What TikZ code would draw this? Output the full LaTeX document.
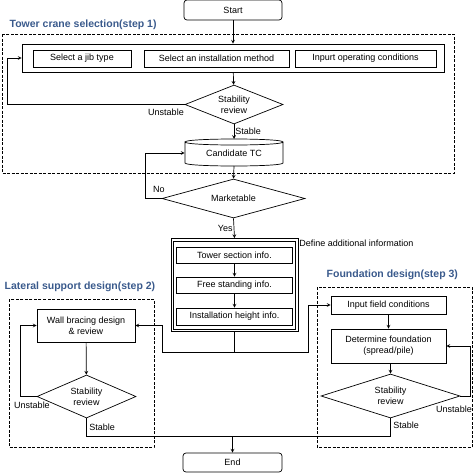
\documentclass[tikz,border=0pt]{standalone}
\usepackage{fontspec}
\setmainfont{Liberation Sans}
\usepackage{tikz}
\usetikzlibrary{shapes.geometric}
\definecolor{titleblue}{RGB}{58,90,140}

\begin{document}
\begin{tikzpicture}[x=1pt,y=-1pt,>=stealth,line width=0.7pt,
    every node/.style={font=\fontsize{9}{11}\selectfont},
    box/.style={draw,rectangle,inner sep=0pt,align=center},
    term/.style={box,rounded corners=3pt},
    decide/.style={draw,diamond,aspect=2.5,inner sep=0pt,align=center},
    stepframe/.style={draw,line width=1pt,dash pattern=on 3pt off 1.5pt},
    steptitle/.style={anchor=west,text=titleblue,font=\fontsize{10.5}{12}\bfseries},
    lbl/.style={inner sep=1pt}]
  \useasboundingbox (0,0) rectangle (474,474);
  % step frames
  \draw[stepframe] (2,34) rectangle (454,173);
  \draw[stepframe] (9,299) rectangle (154,447);
  \draw[stepframe] (317,287) rectangle (472,447);
  \node[steptitle] (t1) at (6,25) {Tower crane selection(step 1)};
  \node[steptitle] (t2) at (1,287) {Lateral support design(step 2)};
  \node[steptitle] (t3) at (323,275) {Foundation design(step 3)};
  % step 1
  \node[term,minimum width=98pt,minimum height=20pt] (start) at (233,10) {Start};
  \node[box,minimum width=422pt,minimum height=28pt] (sel) at (233,58) {};
  \node[box,minimum width=98pt,minimum height=17pt] (jib) at (82,58.5) {Select a jib type};
  \node[box,minimum width=145pt,minimum height=17pt] (inst) at (216.5,58.5) {Select an installation method};
  \node[box,minimum width=141pt,minimum height=17pt] (cond) at (365.5,58.5) {Inpurt operating conditions};
  \node[decide,minimum width=98pt,minimum height=39pt] (sr1) at (234,104.5) {Stability\\review};
  \node[minimum width=98pt,minimum height=27pt,inner sep=0pt] (ctc) at (234,153) {Candidate TC};
  \draw (185,142) .. controls (185,138) and (283,138) .. (283,142)
        .. controls (283,146) and (185,146) .. (185,142) -- (185,163)
        .. controls (185,167) and (283,167) .. (283,163) -- (283,142);
  \coordinate (fb1) at (7,104.5);
  \draw[->] (start) -- (sel);
  \draw[->] (sel) -- (sr1);
  \draw[->] (sr1.west) -- (fb1) |- (sel.west);
  \node[lbl] at (166,112) {Unstable};
  \draw[->] (sr1.south) -- node[right,lbl]{Stable} (234,139);
  % marketable
  \node[decide,minimum width=143pt,minimum height=39pt] (mkt) at (233.5,198.5) {Marketable};
  \coordinate (fb2) at (145,198.5);
  \draw[->] (234,166) -- (mkt.north);
  \draw[->] (mkt.west) -- (fb2) |- (ctc.west);
  \node[lbl] at (159,189) {No};
  % additional information
  \node[box,minimum width=127pt,minimum height=93pt] (info) at (234.5,285) {};
  \node[box,minimum width=122pt,minimum height=88pt] (infoin) at (info) {};
  \node[box,minimum width=116pt,minimum height=16pt] (tsi) at (234.5,255) {Tower section info.};
  \node[box,minimum width=116pt,minimum height=16pt] (fsi) at (234.5,285) {Free standing info.};
  \node[box,minimum width=116pt,minimum height=17pt] (ihi) at (234.5,316.5) {Installation height info.};
  \node[lbl,anchor=west] at (298,243) {Define additional information};
  \draw[->] (mkt.south) -- node[left,lbl]{Yes} (info.north);
  \draw[->] (tsi) -- (fsi);
  \draw[->] (fsi) -- (ihi);
  % step 2
  \node[box,minimum width=98pt,minimum height=33pt] (wbd) at (86,325.5) {Wall bracing design\\\& review};
  \node[decide,minimum width=99pt,minimum height=43pt] (sr2) at (86.5,396.5) {Stability\\review};
  \coordinate (fb3) at (20,396.5);
  \draw[->] (wbd) -- (sr2);
  \draw[->] (sr2.west) -- (fb3) |- (wbd.west);
  \node[lbl] at (32,405) {Unstable};
  % step 3
  \node[box,minimum width=115pt,minimum height=18pt] (ifc) at (388.5,305) {Input field conditions};
  \node[box,minimum width=115pt,minimum height=34pt] (dtf) at (388.5,346) {Determine foundation\\(spread/pile)};
  \node[decide,minimum width=139pt,minimum height=44pt] (sr3) at (390.5,396) {Stability\\review};
  \coordinate (fb4) at (470,396);
  \draw[->] (ifc) -- (dtf);
  \draw[->] (dtf.south -| sr3.north) -- (sr3.north);
  \draw[->] (sr3.east) -- (fb4) |- (dtf.east);
  \node[lbl] at (454,409) {Unstable};
  % split to step 2 and step 3
  \coordinate (sp) at (234.5,352);
  \coordinate (spl) at (162,352);
  \coordinate (spr) at (308,352);
  \draw (info.south) -- (sp);
  \draw[->] (sp) -- (spl) |- (wbd.east);
  \draw[->] (sp) -- (spr) |- (ifc.west);
  % end
  \node[term,minimum width=99pt,minimum height=19pt] (end) at (232.5,462.5) {End};
  \coordinate (jb) at (232.5,436);
  \draw (sr2.south) |- (jb);
  \draw (sr3.south) |- (jb);
  \draw[->] (jb) -- (end.north);
  \node[lbl,anchor=west] at (88,427) {Stable};
  \node[lbl,anchor=west] at (392,425) {Stable};
\end{tikzpicture}
\end{document}
